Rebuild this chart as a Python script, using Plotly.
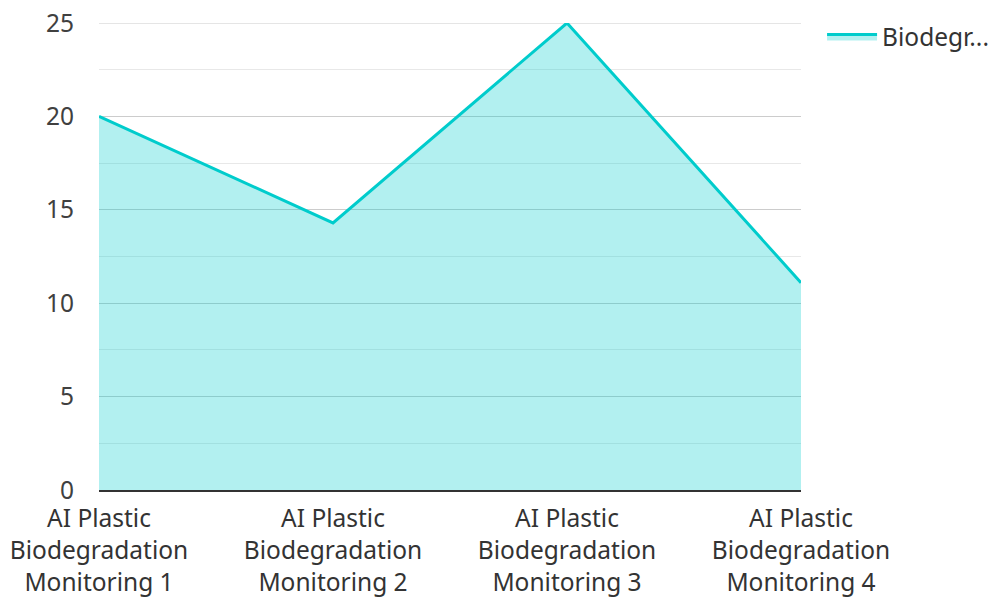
import plotly.graph_objects as go

categories = ["AI Plastic Biodegradation Monitoring 1", "AI Plastic Biodegradation Monitoring 2",
              "AI Plastic Biodegradation Monitoring 3", "AI Plastic Biodegradation Monitoring 4"]
tick_text = ["AI Plastic<br>Biodegradation<br>Monitoring 1",
             "AI Plastic<br>Biodegradation<br>Monitoring 2",
             "AI Plastic<br>Biodegradation<br>Monitoring 3",
             "AI Plastic<br>Biodegradation<br>Monitoring 4"]
values = [20, 14.3, 25, 11.1]
series_name = "Biodegr..."
y_ticks = [0, 5, 10, 15, 20, 25]

FONT = "Noto Sans, Open Sans, sans-serif"
FS = 24.5

fig = go.Figure()
fig.add_trace(go.Scatter(
    x=categories, y=values, name=series_name, mode="lines",
    line=dict(color="rgb(0,204,204)", width=3),
    fill="tozeroy", fillcolor="rgba(0,204,204,0.3)",
    showlegend=True, cliponaxis=False,
))

# gridline at the top tick (plotly drops grid lines at the plot edge)
fig.add_shape(type="line", xref="paper", x0=0, x1=1, yref="y", y0=y_ticks[-1], y1=y_ticks[-1],
              line=dict(color="#cccccc", width=1), layer="below")

fig.update_layout(
    width=988, height=589,
    margin=dict(l=91, r=195, t=15, b=107, autoexpand=False),
    plot_bgcolor="white", paper_bgcolor="white",
    font=dict(family=FONT, size=FS, color="#333333"),
    showlegend=True,
    legend=dict(x=1.03, y=1.019, xanchor="left", yanchor="top", itemwidth=50,
                font=dict(family=FONT, size=FS, color="#333333")),
    xaxis=dict(
        range=[0, 3], tickvals=categories, ticktext=tick_text,
        showgrid=False, zeroline=False, automargin=False,
        showline=True, linecolor="#333333", linewidth=2,
        tickfont=dict(family=FONT, size=FS, color="#333333"),
        ticklabelstandoff=6, ticklabeloverflow="allow",
    ),
    yaxis=dict(
        range=[0, 25], tickvals=y_ticks, showgrid=True, gridcolor="#cccccc", gridwidth=1,
        zeroline=False, showline=False, ticklabelstandoff=24, automargin=False,
        ticklabeloverflow="allow",
        tickfont=dict(family=FONT, size=FS, color="#404040"),
        minor=dict(dtick=2.5, showgrid=True, gridcolor="#e8e8e8", gridwidth=1),
    ),
)

fig.write_html("out.html")
